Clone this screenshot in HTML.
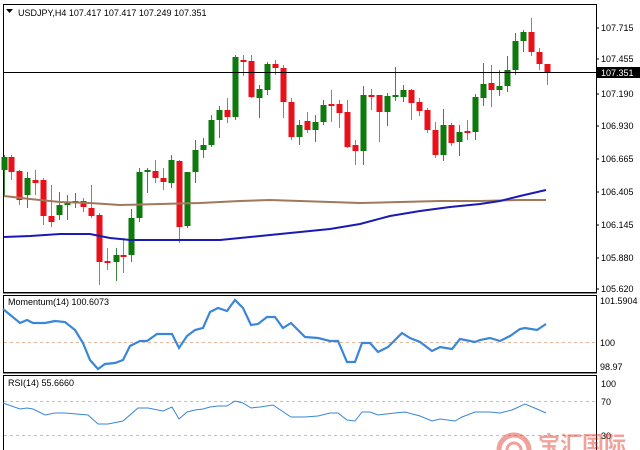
<!DOCTYPE html>
<html><head><meta charset="utf-8"><style>
body{margin:0;background:#fff;width:640px;height:450px;overflow:hidden;font-family:"Liberation Sans","Noto Sans CJK SC",sans-serif}
svg{display:block}
text{font-family:"Liberation Sans","Noto Sans CJK SC",sans-serif;font-size:9px;fill:#000}
</style></head><body>
<svg id="s" width="640" height="450" xmlns="http://www.w3.org/2000/svg">
<rect x="0" y="0" width="640" height="450" fill="#fff"/>
<!-- frames -->
<rect x="3.5" y="4.5" width="593" height="288" fill="none" stroke="#000" stroke-width="1"/>
<line x1="3" y1="293.5" x2="597" y2="293.5" stroke="#888" stroke-width="1"/>
<rect x="3.5" y="295.5" width="593" height="77" fill="none" stroke="#000" stroke-width="1"/>
<line x1="3" y1="373.5" x2="597" y2="373.5" stroke="#888"/>
<rect x="3.5" y="375.5" width="593" height="80" fill="none" stroke="#000" stroke-width="1"/>
<line x1="4" y1="342.5" x2="596" y2="342.5" stroke="#e0b8a0" stroke-dasharray="3,3"/>
<line x1="4" y1="401.5" x2="596" y2="401.5" stroke="#e0b8a0" stroke-dasharray="3,3"/>
<line x1="4" y1="435.5" x2="596" y2="435.5" stroke="#e0b8a0" stroke-dasharray="3,3"/>
<g id="c"></g>
<line x1="4" y1="72.5" x2="596" y2="72.5" stroke="#000" stroke-width="1"/>
<polyline fill="none" stroke="#a0785a" stroke-width="2" points="4,196 30,199 60,202 90,203 120,205 160,204 200,203 240,201 270,200 300,201 330,202 360,203 400,202 440,201 480,201 520,200 546,200"/>
<polyline fill="none" stroke="#1a1ab4" stroke-width="2" points="4,237 30,236 60,234 90,234 110,238 130,240 175,240 220,240 240,238 270,235 300,232 330,229 360,224 390,216 420,211 450,207 480,204 500,201 520,196 546,190"/>
<polyline fill="none" stroke="#3a86d8" stroke-width="2.2" points="3,309 20,323 27,320 33,323 45,323 55,321 65,322 75,330 83,343 90,360 98,369 105,364 115,363 123,360 130,346 140,341 147,341 157,334 172,334 179,348 187,336 195,330 203,328 210,312 218,308 227,311 235,300 243,308 251,325 258,324 267,317 275,317 283,328 291,323 305,337 318,338 330,341 338,341 347,362 355,362 362,343 370,343 378,352 388,347 402,333 410,338 420,342 432,351 440,347 452,349 460,339 475,342 480,340 490,338 500,341 510,336 520,329 525,328 537,330 546,324"/>
<polyline fill="none" stroke="#3a86d8" stroke-width="1" points="3,403 20,409 27,408 33,409 45,415 55,413 65,413 88,415 98,424 108,424 123,421 138,408 148,408 163,411 172,407 179,419 187,412 195,410 203,409 210,407 218,406 227,406 235,401 243,403 251,408 260,407 273,405 291,417 305,417 318,416 330,413 338,413 347,420 355,421 362,412 370,412 378,415 395,413 405,412 420,416 432,421 440,419 455,421 462,417 475,412 490,412 500,413 512,410 525,404 537,409 546,413"/>
<!-- axis labels -->
<g>
<line x1="596" y1="28" x2="599" y2="28" stroke="#000"/><text x="601" y="31">107.715</text>
<line x1="596" y1="59" x2="599" y2="59" stroke="#000"/><text x="601" y="62">107.455</text>
<rect x="597" y="67" width="43" height="11" fill="#000"/><text x="601" y="76" style="fill:#fff">107.351</text>
<line x1="596" y1="94" x2="599" y2="94" stroke="#000"/><text x="601" y="97">107.190</text>
<line x1="596" y1="126" x2="599" y2="126" stroke="#000"/><text x="601" y="129">106.930</text>
<line x1="596" y1="159" x2="599" y2="159" stroke="#000"/><text x="601" y="162">106.665</text>
<line x1="596" y1="192" x2="599" y2="192" stroke="#000"/><text x="601" y="195">106.405</text>
<line x1="596" y1="225" x2="599" y2="225" stroke="#000"/><text x="601" y="228">106.145</text>
<line x1="596" y1="258" x2="599" y2="258" stroke="#000"/><text x="601" y="261">105.880</text>
<line x1="596" y1="289" x2="599" y2="289" stroke="#000"/><text x="601" y="292">105.620</text>
<text x="600" y="304">101.5904</text>
<text x="600" y="346">100</text>
<text x="600" y="370">98.97</text>
<text x="601" y="387">100</text>
<text x="601" y="405">70</text>
<text x="601" y="439">30</text>
</g>
<polygon points="6,9 13,9 9.5,13" fill="#000"/>
<text x="18" y="16">USDJPY,H4  107.417 107.417 107.249 107.351</text>
<text x="8" y="305">Momentum(14) 100.6073</text>
<text x="8" y="386">RSI(14) 55.6660</text>
<!-- watermark -->
<g opacity="0.45">
<circle cx="514" cy="450" r="15" fill="none" stroke="#e03020" stroke-width="5"/>
<circle cx="514" cy="450" r="7" fill="none" stroke="#e03020" stroke-width="3"/>
<text x="538" y="452" style="font-size:22px;fill:#e03020;font-weight:bold">宝汇国际</text>
</g>
</svg>
<script>
var d=[
[4,170,157,155,195,1],[11,157,172,155,180,0],[19,171,200,170,205,0],[27,195,178,172,208,1],[35,180,183,170,195,0],
[43,180,216,178,225,0],[51,216,222,185,227,0],[59,215,205,192,220,1],[67,204,203,195,220,1],[75,203,201,193,208,1],
[83,201,207,198,212,0],[91,208,216,185,218,0],[99,215,262,213,285,0],[107,261,263,248,270,0],[116,262,255,248,281,1],
[123,255,256,238,273,0],[131,255,218,209,262,1],[139,218,172,168,222,1],[147,172,170,168,193,1],[155,171,178,160,183,0],
[163,178,182,168,190,0],[171,183,160,155,188,1],[179,161,227,160,243,0],[187,226,172,172,228,1],[195,172,150,140,183,1],
[203,150,145,138,158,1],[211,145,120,115,147,1],[219,120,110,106,138,1],[227,110,117,98,123,0],[235,117,57,55,120,1],
[243,60,62,55,76,0],[251,61,97,55,98,0],[259,98,89,85,118,1],[267,90,64,62,95,1],[275,64,68,60,75,0],
[283,68,102,65,118,0],[291,102,137,98,140,0],[299,137,125,120,145,1],[307,121,130,112,133,0],[315,130,122,115,142,1],
[323,122,105,100,125,1],[331,104,105,90,122,0],[339,104,113,100,128,0],[347,112,147,100,148,0],[355,145,151,140,165,0],
[363,151,95,86,165,1],[371,95,96,89,110,0],[379,95,112,95,142,0],[387,112,96,93,126,1],[395,96,95,67,101,1],
[403,97,90,85,102,1],[411,90,103,89,120,0],[419,102,111,98,116,0],[427,110,130,108,133,0],[435,130,155,122,158,0],
[443,155,125,109,161,1],[451,125,143,123,146,0],[459,142,132,125,156,1],[467,131,132,120,140,0],[475,132,97,94,140,1],
[483,98,84,63,106,1],[491,83,90,65,107,0],[499,90,86,70,96,1],[507,86,70,56,92,1],[515,70,41,33,75,1],
[523,41,32,30,52,1],[531,32,52,18,56,0],[539,52,64,48,70,0],[547,64,72,64,85,0]];
var g=document.getElementById('c'),h='';
d.forEach(function(c){var col=c[5]?'#0e7a0e':'#e8101a',wc=c[5]?'#3a8a3a':'#d86060';
var t=Math.min(c[1],c[2]),b=Math.max(c[1],c[2]);if(b-t<2)b=t+2;
h+='<line x1="'+(c[0]+.5)+'" y1="'+c[3]+'" x2="'+(c[0]+.5)+'" y2="'+c[4]+'" stroke="'+wc+'" stroke-width="1"/>';
h+='<rect x="'+(c[0]-2.5)+'" y="'+t+'" width="6" height="'+(b-t)+'" fill="'+col+'"/>';});
g.innerHTML=h;
</script>
</body></html>
